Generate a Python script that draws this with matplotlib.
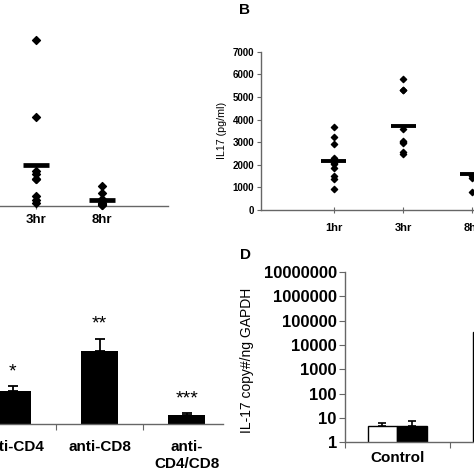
import matplotlib
matplotlib.use('Agg')
import matplotlib.pyplot as plt
import numpy as np
from matplotlib.ticker import FixedLocator, FuncFormatter, NullLocator, NullFormatter

plt.rcParams['font.family'] = ['Liberation Sans', 'DejaVu Sans']

# ---- data ----
# Panel A (only 3hr / 8hr visible)
a_times = ['1hr', '3hr', '8hr']
a_3hr = [7340, 3920, 1560, 1420, 1210, 1200, 440, 270, 120]
a_8hr = [885, 560, 300, 200, 150, 100, 60, 30]
a_medians = [np.nan, 1800, 265]

# Panel B: IL17 (pg/ml)
b_times = ['1hr', '3hr', '8hr']
b_1hr = [3680, 3240, 2900, 2290, 2200, 2060, 2040, 1840, 1500, 1360, 920]
b_3hr = [5800, 5320, 5320, 3580, 3070, 3000, 2960, 2580, 2480]
b_8hr = [1500, 1400, 810]
b_medians = [2170, 3720, 1600]

# Panel C: depletion bars
c_groups = ['anti-CD4', 'anti-CD8', 'anti-\nCD4/CD8']
c_values = [18.8, 41.7, 5.2]
c_err = [2.7, 7.3, 0.8]
c_stars = ['*', '**', '***']

# Panel D: IL-17 copy#/ng GAPDH (log)
d_groups = ['Control', '']
d_white = [4.7, 33600]
d_black = [4.8, np.nan]
d_white_err = [1.35, np.nan]
d_black_err = [2.7, np.nan]

AXC = '#666666'
W = 474.0


def fig_rect(x0, y_bottom, width, height):
    # pixel box -> figure fraction
    return [x0 / W, 1 - y_bottom / W, width / W, height / W]


def style_axes(ax, keep=('left', 'bottom')):
    for side, sp in ax.spines.items():
        if side in keep:
            sp.set_color(AXC)
            sp.set_linewidth(1.0)
        else:
            sp.set_visible(False)
    ax.tick_params(colors=AXC, labelcolor='black')


fig = plt.figure(figsize=(4.74, 4.74), dpi=100)

# ---- Panel A ----
axA = fig.add_axes(fig_rect(-96, 206, 264, 181), facecolor='none')
posA = np.arange(1, len(a_times) + 1)
for p, vals in zip(posA[1:], [a_3hr, a_8hr]):
    axA.scatter(np.full(len(vals), p), vals, marker='D', s=16, color='black',
                zorder=3, clip_on=False)
axA.hlines(a_medians, posA - 0.2, posA + 0.2, colors='black', lw=3.4, zorder=4)
axA.set_xlim(0, 4)
axA.set_ylim(0, 8000)
axA.set_xticks(posA)
axA.set_xticklabels(a_times, fontsize=9.5, fontweight='bold')
axA.set_yticks([])
style_axes(axA, keep=('bottom',))
axA.tick_params(axis='x', direction='inout', length=5, pad=3)

# ---- Panel B ----
axB = fig.add_axes(fig_rect(261, 210, 280.7, 158.3), facecolor='none')
posB = np.arange(1, len(b_times) + 1)
for p, vals in zip(posB, [b_1hr, b_3hr, b_8hr]):
    axB.scatter(np.full(len(vals), p), vals, marker='D', s=10, color='black', zorder=3)
axB.hlines(b_medians, posB - 0.18, posB + 0.18, colors='black', lw=2.8, zorder=4)
axB.set_xlim(-0.05, 4)
axB.set_ylim(0, 7000)
axB.set_yticks(np.arange(0, 7001, 1000))
axB.set_yticklabels([str(v) for v in range(0, 7001, 1000)], fontsize=7, fontweight='bold')
axB.set_xticks(posB)
axB.set_xticklabels(b_times, fontsize=8, fontweight='bold')
style_axes(axB)
axB.tick_params(axis='y', direction='out', length=3, pad=2)
axB.tick_params(axis='x', direction='inout', length=5, pad=7)
axB.set_ylabel('IL17 (pg/ml)', fontsize=7.7)
axB.yaxis.set_label_coords(-0.12, 0.505)
fig.text(239 / W, 1 - 14 / W, 'B', fontsize=11, fontweight='bold', va='baseline')

# ---- Panel C ----
axC = fig.add_axes(fig_rect(-117.8, 423.7, 340.8, 173.7), facecolor='none')
posC = np.arange(len(c_groups))
axC.bar(posC, c_values, width=0.42, color='black', zorder=2)
axC.errorbar(posC, c_values, yerr=[np.zeros(len(c_err)), c_err], fmt='none',
             ecolor='black', elinewidth=1.3, capsize=3.5, capthick=1.3, zorder=3)
for p, v, e, s in zip(posC, c_values, c_err, c_stars):
    axC.annotate(s, (p, v + e), xytext=(0, 7), textcoords='offset points',
                 ha='center', va='baseline', fontsize=14)
axC.set_xlim(-1.5, 2.417)
axC.set_ylim(0, 100)
axC.xaxis.set_major_locator(FixedLocator([-0.5, 0.5, 1.5]))
axC.xaxis.set_major_formatter(NullFormatter())
axC.xaxis.set_minor_locator(FixedLocator(posC))
axC.set_xticklabels(c_groups, minor=True, fontsize=11, fontweight='bold')
axC.set_yticks([])
style_axes(axC, keep=('bottom',))
axC.tick_params(axis='x', which='major', direction='out', length=4)
axC.tick_params(axis='x', which='minor', length=0, pad=12)

# ---- Panel D ----
axD = fig.add_axes(fig_rect(344.5, 442.3, 210.8, 170.3), facecolor='none')
posD = np.arange(len(d_groups))
bw = 0.28
axD.bar(posD - bw / 2, d_white, width=bw, color='white', edgecolor='black', lw=1, zorder=2)
axD.bar(posD + bw / 2, d_black, width=bw, color='black', edgecolor='black', lw=1, zorder=2)
axD.errorbar(posD - bw / 2, d_white, yerr=[np.zeros(len(d_white)), d_white_err], fmt='none',
             ecolor='black', elinewidth=1.2, capsize=3, capthick=1.2, zorder=3)
axD.errorbar(posD + bw / 2, d_black, yerr=[np.zeros(len(d_black)), d_black_err], fmt='none',
             ecolor='black', elinewidth=1.2, capsize=3, capthick=1.2, zorder=3)
axD.set_yscale('log')
axD.set_ylim(1, 1e7)
axD.set_xlim(-0.5, 1.5)
axD.yaxis.set_major_locator(FixedLocator([10 ** k for k in range(8)]))
axD.yaxis.set_major_formatter(FuncFormatter(lambda v, _: f'{int(round(v))}'))
axD.yaxis.set_minor_locator(NullLocator())
axD.xaxis.set_major_locator(FixedLocator([-0.5, 0.5, 1.5]))
axD.xaxis.set_major_formatter(NullFormatter())
axD.xaxis.set_minor_locator(FixedLocator(posD))
axD.set_xticklabels(d_groups, minor=True, fontsize=11, fontweight='bold')
for lab in axD.get_yticklabels():
    lab.set_fontsize(12)
    lab.set_fontweight('bold')
style_axes(axD)
axD.tick_params(axis='y', direction='out', length=4.3, pad=1.2)
axD.tick_params(axis='x', which='major', direction='out', length=4.3)
axD.tick_params(axis='x', which='minor', length=0, pad=6)
axD.set_ylabel('IL-17 copy#/ng GAPDH', fontsize=10)
axD.yaxis.set_label_coords(-0.43, 0.4815)
fig.text(240 / W, 1 - 258.7 / W, 'D', fontsize=11, fontweight='bold', va='baseline')

fig.savefig('out.png', dpi=100)
